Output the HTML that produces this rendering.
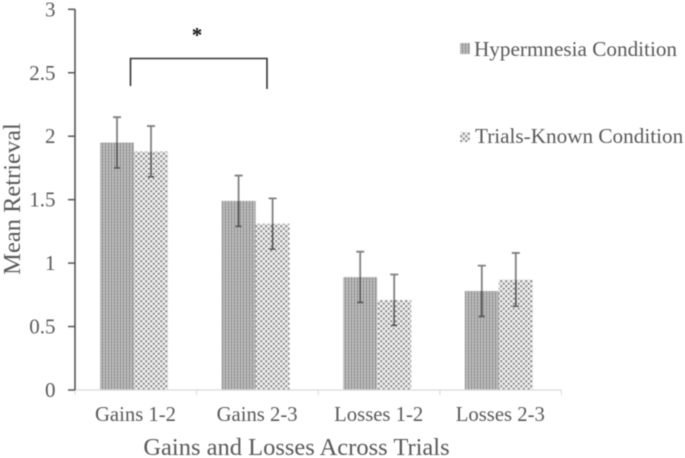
<!DOCTYPE html>
<html>
<head>
<meta charset="utf-8">
<style>
html,body{margin:0;padding:0;background:#fff;width:685px;height:458px;overflow:hidden}
svg{display:block;filter:blur(0.5px)}
text{font-family:"Liberation Serif",serif;fill:#595959}
</style>
</head>
<body>
<svg id="chart" width="685" height="458" viewBox="0 0 685 458" xmlns="http://www.w3.org/2000/svg">
<defs>
<pattern id="dense" width="3" height="3" patternUnits="userSpaceOnUse">
<rect width="3" height="3" fill="#b4b4b4"/>
<rect x="0" y="0" width="1" height="3" fill="#929292"/>
<rect x="1.5" y="1" width="1" height="1" fill="#d6d6d6"/>
</pattern>
<pattern id="sparse" width="5" height="5" patternUnits="userSpaceOnUse">
<rect width="5" height="5" fill="#f4f4f4"/>
<circle cx="1.25" cy="1.25" r="1.2" fill="#8c8c8c"/>
<circle cx="3.75" cy="3.75" r="1.2" fill="#8c8c8c"/>
</pattern>
</defs>
<g id="bars"></g>
<g id="axes"></g>
<g id="errors"></g>
<path d="M130.5 86V58.500H267V89" fill="none" stroke="#333" stroke-width="1.6"/>
<text x="197" y="42" font-size="21" font-weight="bold" text-anchor="middle" style="fill:#111">*</text>
<rect x="460" y="43" width="10" height="11" fill="url(#dense)"/>
<text x="474" y="56" font-size="21.2">Hypermnesia Condition</text>
<rect x="460" y="132" width="10" height="10" fill="url(#sparse)"/>
<text x="475" y="143" font-size="21.2">Trials-Known Condition</text>
<text x="296.500" y="455" font-size="24.500" text-anchor="middle">Gains and Losses Across Trials</text>
<text transform="translate(20,199) rotate(-90)" font-size="24.500" text-anchor="middle">Mean Retrieval</text>
</svg>
<script>
var categories = ['Gains 1-2', 'Gains 2-3', 'Losses 1-2', 'Losses 2-3'];
var hypermnesia = [1.95, 1.49, 0.89, 0.78];
var trialsKnown = [1.88, 1.31, 0.71, 0.87];
var hypermnesiaError = [0.20, 0.20, 0.20, 0.20];
var trialsKnownError = [0.20, 0.20, 0.20, 0.21];
var yTicks = ['0', '0.5', '1', '1.5', '2', '2.5', '3'];

var NS = 'http://www.w3.org/2000/svg';
function y(v) { return 390 - v * 126.9; }
function x(i) { return 75 + i * 121.6; }
function make(parent, tag, attrs) {
  var el = document.createElementNS(NS, tag);
  for (var k in attrs) el.setAttribute(k, attrs[k]);
  document.getElementById(parent).appendChild(el);
  return el;
}
function drawBar(i, v, err, offset, fill, label) {
  var left = x(i) + offset;
  var bar = make('bars', 'rect', {x: left, y: y(v), width: 34, height: y(0) - y(v), fill: fill});
  
  
  var cx = left + 17;
  var upper = make('errors', 'path', {
    d: 'M' + cx + ' ' + y(v + err) + 'V' + y(v) +
       'M' + (cx - 4) + ' ' + y(v + err) + 'H' + (cx + 4),
    fill: 'none', stroke: '#808080', 'stroke-width': 1.8
  });
  
  
  var lower = make('errors', 'path', {
    d: 'M' + cx + ' ' + y(v) + 'V' + y(v - err) +
       'M' + (cx - 3) + ' ' + y(v - err) + 'H' + (cx + 3),
    fill: 'none', stroke: '#555', 'stroke-width': 1.6
  });
  
  
}
categories.forEach(function (c, i) {
  drawBar(i, hypermnesia[i], hypermnesiaError[i], 25, 'url(#dense)', 'hypermnesia');
  drawBar(i, trialsKnown[i], trialsKnownError[i], 59, 'url(#sparse)', 'trials-known');
  var t = make('axes', 'text', {x: x(i) + 60.5, y: 421, 'font-size': 20.7, 'text-anchor': 'middle'});
  t.textContent = c;
  
  
});
for (var n = 0; n <= categories.length; n++) {
  var m = make('axes', 'line', {x1: x(n), x2: x(n), y1: y(0), y2: y(0) + 5, stroke: '#d9d9d9', 'stroke-width': 1});
  
  
}
var xAxis = make('axes', 'line', {x1: x(0), x2: x(categories.length), y1: y(0), y2: y(0), stroke: '#d9d9d9', 'stroke-width': 1.2});


var yAxis = make('axes', 'line', {x1: x(0), x2: x(0), y1: y(0), y2: y(3), stroke: '#555', 'stroke-width': 1.6});


yTicks.forEach(function (label) {
  var v = parseFloat(label);
  var tick = make('axes', 'line', {x1: x(0) - 7, x2: x(0), y1: y(v), y2: y(v), stroke: '#555', 'stroke-width': 1.5});
  
  
  var t = make('axes', 'text', {x: 55.500, y: y(v) + 7, 'font-size': 21, 'text-anchor': 'end'});
  t.textContent = label;
  
  
});
</script>
</body>
</html>
